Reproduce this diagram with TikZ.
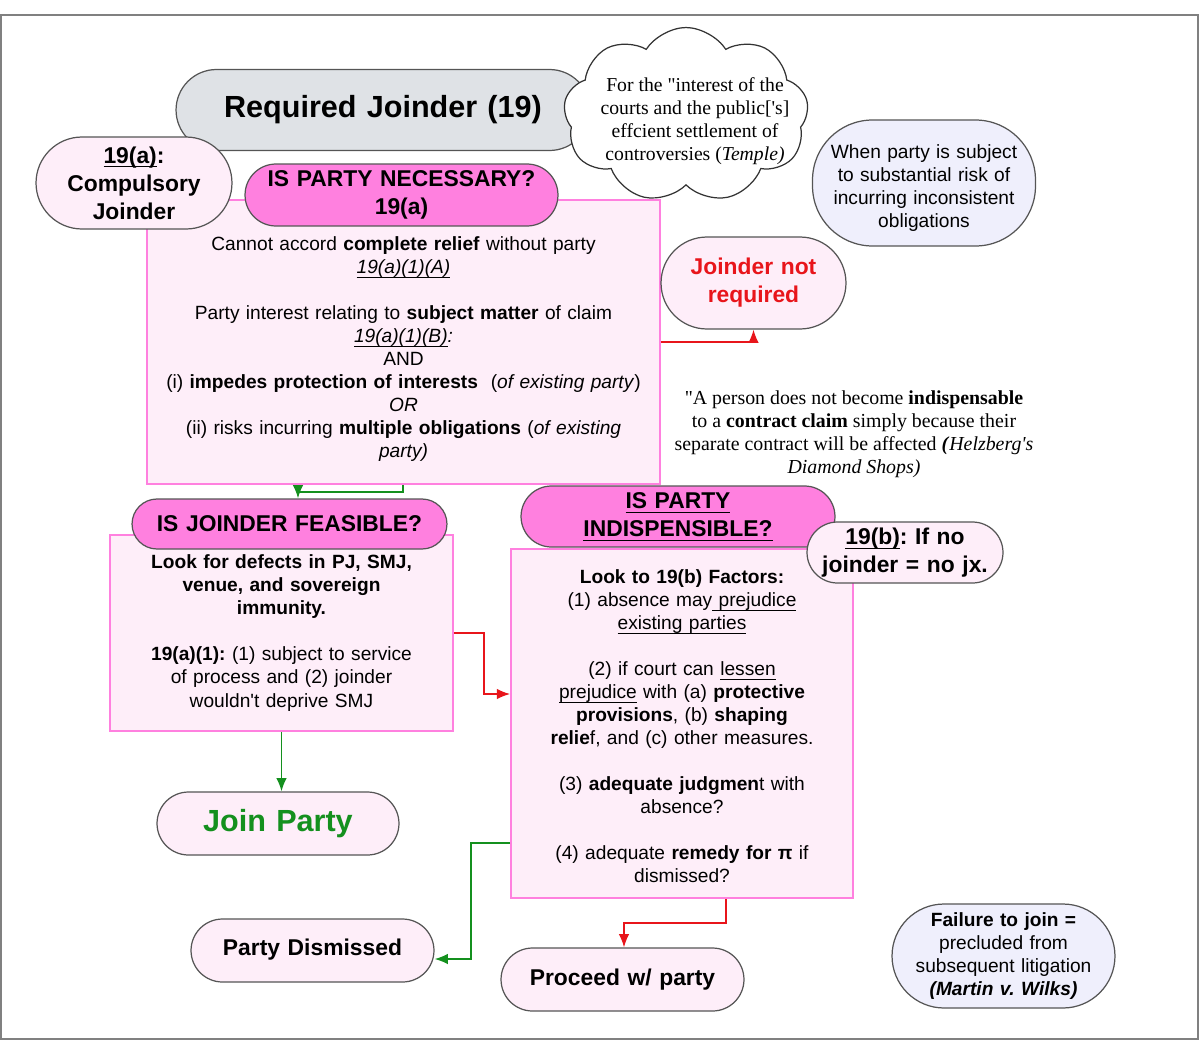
\documentclass[tikz,border=0pt]{standalone}
\usepackage{fontspec}
\setmainfont{Liberation Sans}[Ligatures=TeXOff]
\newfontfamily\quotefont{Liberation Serif}[Ligatures=TeXOff]
\usepackage{xcolor}
\usepackage{tikz}
\usetikzlibrary{shapes.symbols,arrows.meta,positioning,calc}
\frenchspacing
\newcommand\undl[1]{\leavevmode\setbox0\hbox{#1}\rlap{\rule[-2.4pt]{\wd0}{0.55pt}}\box0\relax}

\definecolor{pillpink}{HTML}{FF80DF}
\definecolor{palepink}{HTML}{FEEEF9}
\definecolor{titlegray}{HTML}{DFE2E6}
\definecolor{lavfill}{HTML}{EFEFFC}
\definecolor{edgegray}{HTML}{555555}
\definecolor{okgreen}{HTML}{14901E}
\definecolor{nored}{HTML}{E8151B}

\begin{document}
\begin{tikzpicture}[x=0.02cm,y=-0.02cm,
	pill/.style={draw=edgegray,line width=0.7pt,rectangle,inner sep=0pt,align=center},
	pinkbox/.style={draw=pillpink,line width=1pt,fill=palepink,rectangle,inner sep=0pt,align=center},
	body/.style={font=\fontsize{10.9}{13.1}\selectfont},
	head/.style={font=\fontsize{13}{15.9}\selectfont\bfseries},
	big/.style={font=\fontsize{17.4}{20}\selectfont\bfseries},
	gline/.style={-{Latex[length=7.5pt,width=6pt]},okgreen,line width=1pt},
	rline/.style={-{Latex[length=7.5pt,width=6pt]},nored,line width=1pt}]
		\useasboundingbox (0,0) rectangle (1200,1041);
		\draw[gray,line width=0.6pt] (1,15) rectangle (1198,1039);
		
		% top row
		\node[pill,big,fill=titlegray,text width=8.28cm,minimum height=1.62cm,rounded corners=0.81cm] (title) at (383,110) {\raisebox{2pt}{Required Joinder (19)}};
		\node[draw=black!80,line width=0.7pt,fill=white,cloud,cloud puffs=9,cloud puff arc=115,aspect=1.45,minimum width=4.9cm,minimum height=3.5cm] (cloud) at (686,115) {};
		\node[align=center,font=\fontsize{11.2}{13.1}\selectfont\quotefont] (cloudtxt) at (695,121) {For the "interest of the\\courts and the public['s]\\effcient settlement of\\controversies (\textit{Temple)}};
		\node[pill,body,fill=lavfill,text width=4.46cm,minimum height=2.52cm,rounded corners=1.2cm] (risk) at (924,183) {\rule{0pt}{14pt}When party is subject\\to substantial risk of\\incurring inconsistent\\obligations};
		
		% 19(a)
		\node[pinkbox,body,text width=10.26cm,minimum height=5.68cm] (box1) at (403.5,342) {\rule{0pt}{16pt}Cannot accord \textbf{complete relief} without party\\
			\undl{\textit{19(a)(1)(A)}}\\[13.1pt]
			Party interest relating to \textbf{subject matter} of claim\\
			\undl{\textit{19(a)(1)(B)}}\textit{:}\\
			AND\\
			(i) \textbf{impedes protection of interests}\ \ (\textit{of existing party})\\
			\textit{OR}\\
			(ii) risks incurring \textbf{multiple obligations} (\textit{of existing}\\
			\textit{party)}};
		\node[pill,head,fill=palepink,text width=3.92cm,minimum height=1.84cm,rounded corners=0.92cm] (comp) at (134,183) {\undl{19(a)}:\\Compulsory\\Joinder};
		\node[pill,head,fill=pillpink,text width=6.26cm,minimum height=1.24cm,rounded corners=0.62cm] (necpill) at (401.5,195) {IS PARTY NECESSARY?\\19(a)};
		
		\node[pill,head,fill=palepink,text width=3.7cm,minimum height=1.84cm,rounded corners=0.92cm,text=nored] (notreq) at (753.5,283) {Joinder not\\required};
		\node[align=center,font=\fontsize{11.3}{13.1}\selectfont\quotefont] (helz) at (854,434) {"A person does not become \textbf{indispensable}\\to a \textbf{contract claim} simply because their\\separate contract will be affected \textbf{\textit{(}}\textit{Helzberg's}\\\textit{Diamond Shops)}};
		
		% feasibility
		\node[pinkbox,body,text width=6.86cm,minimum height=3.92cm] (feasbox) at (281.5,633) {\textbf{Look for defects in PJ, SMJ,}\\
			\textbf{venue, and sovereign}\\
			\textbf{immunity.}\\[13.1pt]
			\textbf{19(a)(1):} (1) subject to service\\
			of process and (2) joinder\\
			wouldn't deprive SMJ};
		\node[pill,head,fill=pillpink,text width=6.3cm,minimum height=1cm,rounded corners=0.5cm] (feaspill) at (289.5,524) {IS JOINDER FEASIBLE?};
		
		% 19(b)
		\node[pinkbox,body,text width=6.84cm,minimum height=6.98cm] (indbox) at (682,723.5) {\rule{0pt}{11pt}\textbf{Look to 19(b) Factors:}\\
			(1) absence may\undl{ prejudice}\\
			\undl{existing parties}\\[13.1pt]
			(2) if court can \undl{lessen}\\
			\undl{prejudice} with (a) \textbf{protective}\\
			\textbf{provisions}, (b) \textbf{shaping}\\
			\textbf{relie}f, and (c) other measures.\\[13.1pt]
			(3) \textbf{adequate judgmen}t with\\
			absence?\\[13.1pt]
			(4) adequate \textbf{remedy for π} if\\
			dismissed?};
		\node[pill,head,fill=pillpink,text width=6.28cm,minimum height=1.22cm,rounded corners=0.61cm] (indpill) at (678,516.5) {\undl{IS PARTY}\\\undl{INDISPENSIBLE?}};
		\node[pill,head,fill=palepink,text width=3.92cm,minimum height=1.22cm,rounded corners=0.61cm] (bpill) at (905,552.5) {\undl{19(b)}: If no\\joinder = no jx.};
		
		% outcomes
		\node[pill,big,fill=palepink,text width=4.84cm,minimum height=1.26cm,rounded corners=0.63cm,text=okgreen] (joinp) at (278,823.5) {Join Party};
		\node[pill,head,fill=palepink,text width=4.86cm,minimum height=1.26cm,rounded corners=0.63cm] (dism) at (312.5,950.5) {\raisebox{4pt}{Party Dismissed}};
		\node[pill,head,fill=palepink,text width=4.86cm,minimum height=1.26cm,rounded corners=0.63cm] (proc) at (622.5,979.5) {Proceed w/ party};
		\node[pill,body,fill=lavfill,text width=4.46cm,minimum height=2.08cm,rounded corners=1.04cm] (fail) at (1003.5,956) {\textbf{Failure to join =}\\precluded from\\subsequent litigation\\\textbf{\textit{(Martin v. Wilks)}}};
		
		% connectors
		\draw[gline] (403,0 |- box1.south) -- ++(0,7) -| (298,0 |- feaspill.north);
		\draw[rline] (box1.east) -| (notreq.south);
		\draw[rline] (feasbox.east |- 0,633) -- ++(30,0) |- (indbox.west |- 0,694);
		\draw[gline] (feasbox.south) -- (feasbox.south |- joinp.north);
		\draw[gline] (indbox.west |- 0,843) -- ++(-39,0) |- (dism.east |- 0,959);
		\draw[rline] (726,0 |- indbox.south) -- ++(0,24) -| (624,0 |- proc.north);
	\end{tikzpicture}
\end{document}
